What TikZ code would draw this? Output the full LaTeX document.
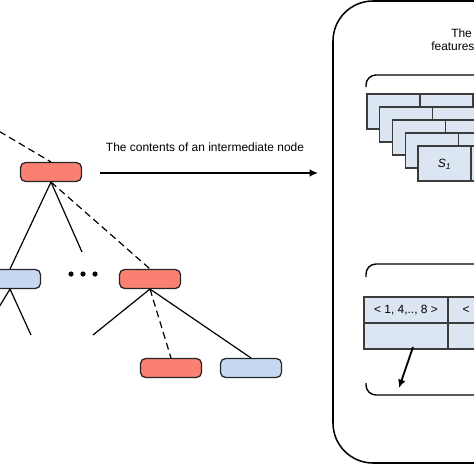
\documentclass[tikz,border=0pt]{standalone}
\usepackage{fontspec}
\setmainfont{Liberation Sans}
\usetikzlibrary{arrows.meta}
\definecolor{salmonfill}{RGB}{250,128,114}
\definecolor{bluefill}{RGB}{198,217,240}
\definecolor{cellfill}{RGB}{220,230,242}
\definecolor{edgegray}{RGB}{60,60,60}
\tikzset{
  treenode/.style={draw=black!85, line width=0.9pt, rounded corners=0.12cm, minimum width=1.52cm, minimum height=0.47cm, inner sep=0pt},
  rednode/.style={treenode, fill=salmonfill},
  bluenode/.style={treenode, fill=bluefill},
  branch/.style={line width=0.85pt},
  dashbranch/.style={line width=0.85pt, dash pattern=on 5pt off 3pt},
  layer/.style={draw=edgegray, fill=cellfill, line width=0.8pt},
  bracket/.style={line width=1pt, rounded corners=0.25cm},
  txt/.style={font=\fontsize{8.5}{10}\selectfont, inner sep=0pt},
  bigarrow/.style={line width=1.3pt, -{Latex[length=6pt,width=5.5pt]}}
}
\begin{document}
\begin{tikzpicture}[x=0.025cm,y=-0.025cm]
\clip (0,0) rectangle (474,474);
\fill [white] (0,0) rectangle (474,474);

\node[rednode] (root) at (51,172) {};
\node[bluenode] (blueL) at (10,279) {};
\node[rednode] (redM) at (150,279) {};
\node[rednode] (redLeaf) at (171,368) {};
\node[bluenode] (blueLeaf) at (251,368) {};
\coordinate (up) at (-20,120);
\coordinate (rootR) at (82,252);
\coordinate (blueLa) at (-10,322);
\coordinate (blueLb) at (31,335);
\coordinate (redMa) at (93,335);

\draw [dashbranch] (up) -- (root.north);
\draw [dashbranch] (root.south) -- (redM.north);
\draw [branch] (root.south) -- (blueL.north);
\draw [branch] (root.south) -- (rootR);
\draw [branch] (blueL.south) -- (blueLa);
\draw [branch] (blueL.south) -- (blueLb);
\draw [branch] (redM.south) -- (redMa);
\draw [dashbranch] (redM.south) -- (redLeaf.north);
\draw [branch] (redM.south) -- (blueLeaf.north);
\foreach \x in {71,83,95}
  \fill [black] (\x,274) circle (0.065cm);

\node[txt] (caption) at (205,147) {The contents of an intermediate node};
\coordinate (arrowA) at (100,173);
\coordinate (arrowB) at (318,173);
\draw [bigarrow] (arrowA) -- (arrowB);

\draw [line width=1.1pt, rounded corners=1cm] (540,1) -- (333,1) -- (333,463) -- (540,463);
\node[txt, anchor=west] (titleA) at (451,33) {The};
\node[txt, anchor=west] (titleB) at (431,46) {features};

\draw [bracket] (366,87) -- (366,75) -- (540,75);
\foreach \i in {0,...,4} {
  \filldraw [layer] (367+12.75*\i,94+13*\i) rectangle ++(159,35);
  \draw [layer] (420+12.75*\i,94+13*\i) -- ++(0,35);
  \draw [layer] (473+12.75*\i,94+13*\i) -- ++(0,35);
}
\node[txt] (sOne) at (444.5,164) {\textit{S}\textsubscript{\textit{1}}};

\draw [bracket] (366,277) -- (366,264) -- (540,264);
\draw [bracket] (366,383) -- (366,395) -- (540,395);
\filldraw [layer] (364,297) rectangle (540,349);
\draw [layer] (364,323) -- (540,323);
\draw [layer] (448,297) -- (448,349);
\node[txt] (tupleA) at (406,310) {< 1, 4,.., 8 >};
\node[txt] (tupleB) at (466,310) {<};
\coordinate (cellA) at (413,347);
\coordinate (target) at (399,388);
\draw [bigarrow] (cellA) -- (target);
\end{tikzpicture}
\end{document}
